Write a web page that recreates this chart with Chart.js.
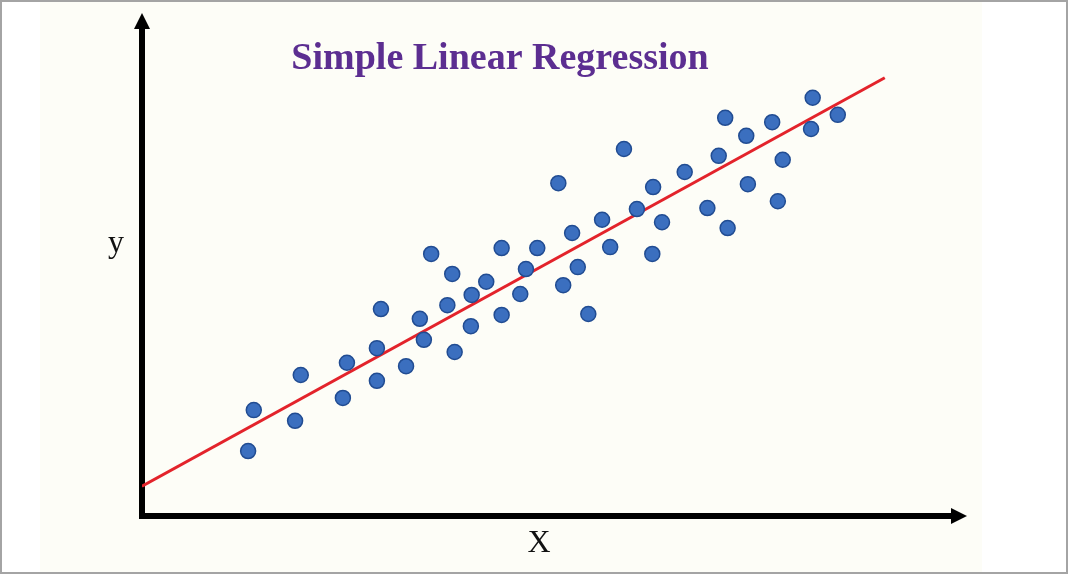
<!DOCTYPE html>
<html>
<head>
<meta charset="utf-8">
<script src="https://cdn.jsdelivr.net/npm/chart.js@4.4.0/dist/chart.umd.min.js"></script>
<style>
    html, body { margin: 0; padding: 0; background: #fff; }
    canvas { display: block; }
</style>
</head>
<body>
<canvas id="regression-chart" width="1068" height="574"></canvas>
<script>
// observations (arbitrary units, 0-100 on both axes)
const pointsX = [13.1, 13.8, 18.9, 19.6, 24.8, 25.3, 29.0, 29.0, 29.5, 32.6,
                 34.3, 34.8, 35.7, 37.7, 38.3, 38.6, 40.6, 40.7, 42.5, 44.4,
                 44.4, 46.7, 47.4, 48.8, 51.4, 52.0, 53.1, 53.8, 55.1, 56.8,
                 57.8, 59.5, 61.1, 63.0, 63.1, 64.2, 67.0, 69.8, 71.2, 72.0,
                 72.3, 74.6, 74.8, 77.8, 78.5, 79.1, 82.6, 82.8, 85.9];
const pointsY = [13.3, 21.7, 19.5, 28.9, 24.2, 31.4, 27.7, 34.4, 42.4, 30.7,
                 40.4, 36.1, 53.7, 43.2, 49.6, 33.6, 38.9, 45.3, 48.0, 54.9,
                 41.2, 45.5, 50.6, 54.9, 68.2, 47.3, 58.0, 51.0, 41.4, 60.7,
                 55.1, 75.2, 62.9, 53.7, 67.4, 60.2, 70.5, 63.1, 73.8, 81.6,
                 59.0, 77.9, 68.0, 80.7, 64.5, 73.0, 79.3, 85.7, 82.2];

// fitted line end points
const lineX = [0, 91.7];
const lineY = [6.1, 89.8];

const chartTitle = 'Simple Linear Regression';
const xLabel = 'X';
const yLabel = 'y';

const toPoints = (xs, ys) => xs.map((x, i) => ({ x: x, y: ys[i] }));

// background panel, frame, arrow heads and text
const decorations = {
    id: 'decorations',
    beforeDraw(chart) {
        let ctx = chart.ctx;
        ctx.save();
        ctx.fillStyle = '#ffffff';
        ctx.fillRect(0, 0, chart.width, chart.height);
        ctx.fillStyle = '#fdfdf7';
        ctx.fillRect(40, 0, 942, chart.height);
        ctx.strokeStyle = '#a4a4a4';
        ctx.lineWidth = 2;
        ctx.strokeRect(1, 1, chart.width - 2, chart.height - 2);
        ctx.restore();
    },
    afterDraw(chart) {
        let ctx = chart.ctx;
        let a = chart.chartArea;
        ctx.save();
        ctx.fillStyle = '#000';
        // y arrow
        ctx.beginPath();
        ctx.moveTo(a.left, a.top - 15);
        ctx.lineTo(a.left - 8, a.top + 1);
        ctx.lineTo(a.left + 8, a.top + 1);
        ctx.closePath();
        ctx.fill();
        // x arrow
        ctx.beginPath();
        ctx.moveTo(a.right + 15, a.bottom);
        ctx.lineTo(a.right - 1, a.bottom - 8);
        ctx.lineTo(a.right - 1, a.bottom + 8);
        ctx.closePath();
        ctx.fill();

        ctx.textAlign = 'center';
        ctx.textBaseline = 'alphabetic';
        ctx.fillStyle = '#5c2e91';
        ctx.font = 'bold 38px "Liberation Serif"';
        ctx.fillText(chartTitle, 500, 69);

        ctx.fillStyle = '#111';
        ctx.font = '32px "Liberation Serif"';
        ctx.fillText(yLabel, 116, 252);
        ctx.fillText(xLabel, 539, 552);
        ctx.restore();
    }
};

let canvas = document.getElementById('regression-chart');
let regressionChart = new Chart(canvas, {
    type: 'scatter',
    data: {
        datasets: [{
            label: 'Data',
            data: toPoints(pointsX, pointsY),
            order: 0,
            pointRadius: 7.5,
            borderWidth: 1.5,
            backgroundColor: '#3b6fbf',
            borderColor: '#214c92',
        }, {
            label: 'Fit',
            type: 'line',
            data: toPoints(lineX, lineY),
            order: 1,
            pointRadius: 0,
            borderWidth: 3,
            borderColor: '#e3232b',
            fill: false,
            tension: 0,
        }]
    },
    options: {
        responsive: false,
        animation: false,
        events: [],
        layout: {
            autoPadding: false,
            padding: { left: 142, right: 116, top: 28, bottom: 58 }
        },
        plugins: {
            legend: { display: false },
            tooltip: { enabled: false },
        },
        scales: {
            x: {
                type: 'linear',
                min: 0,
                max: 100,
                grid: { display: false, drawTicks: false },
                ticks: { display: false },
                border: { display: true, color: '#000', width: 6 },
            },
            y: {
                type: 'linear',
                min: 0,
                max: 100,
                grid: { display: false, drawTicks: false },
                ticks: { display: false },
                border: { display: true, color: '#000', width: 6 },
            }
        }
    },
    plugins: [decorations]
});
window.regressionChart = regressionChart;
</script>
</body>
</html>
